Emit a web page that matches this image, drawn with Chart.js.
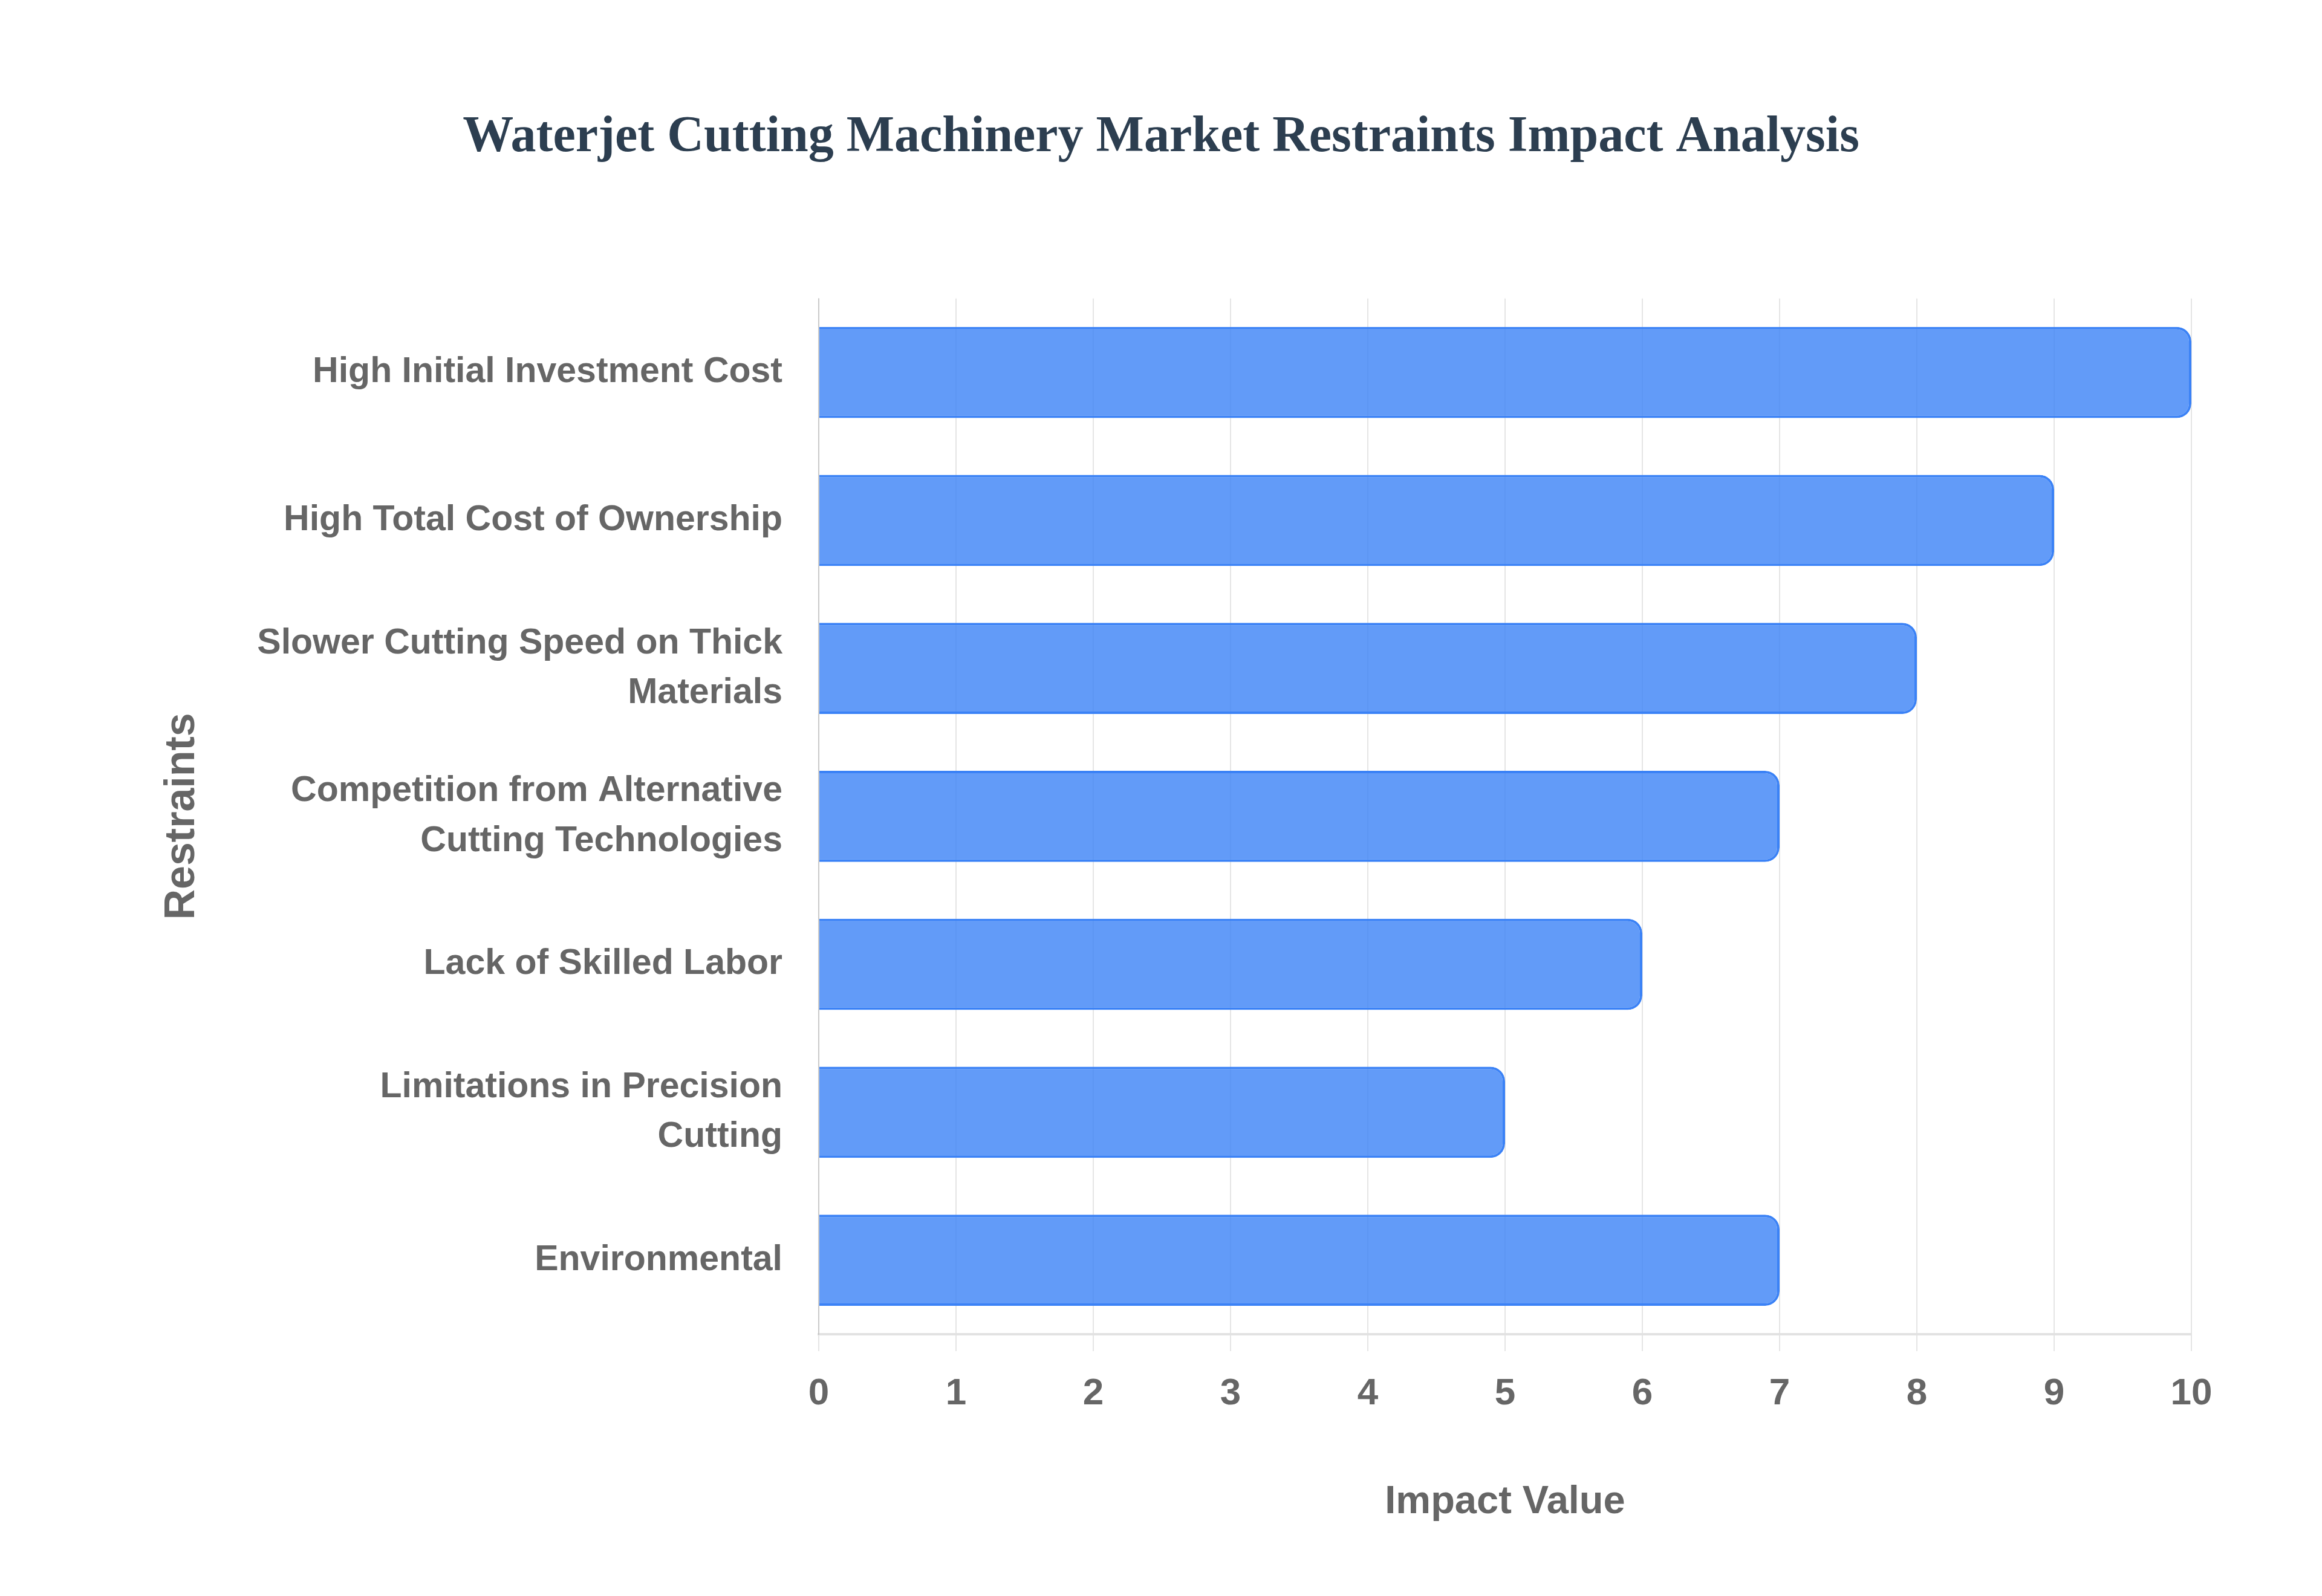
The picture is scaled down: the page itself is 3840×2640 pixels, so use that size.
<!DOCTYPE html>
<html>
<head>
<meta charset="utf-8">
<title>Waterjet Cutting Machinery Market Restraints Impact Analysis</title>
<script src="https://cdn.jsdelivr.net/npm/chart.js@4/dist/chart.umd.min.js"></script>
<style>
  html, body { margin: 0; padding: 0; background: #ffffff; }
  canvas { display: block; }
</style>
</head>
<body>
<canvas id="restraintsChart" width="3840" height="2640"></canvas>
<script>
// chart data
const restraints = [
  "High Initial Investment Cost",
  "High Total Cost of Ownership",
  ["Slower Cutting Speed on Thick", "Materials"],
  ["Competition from Alternative", "Cutting Technologies"],
  "Lack of Skilled Labor",
  ["Limitations in Precision", "Cutting"],
  "Environmental"
];
const impactValues = [10, 9, 8, 7, 6, 5, 7];
const impactTicks = [0, 1, 2, 3, 4, 5, 6, 7, 8, 9, 10];

const ctx = document.getElementById("restraintsChart").getContext("2d");
const chart = new Chart(ctx, {
  type: "bar",
  data: {
    labels: restraints,
    datasets: [
      {
        label: "Impact Value",
        data: impactValues,
        backgroundColor: "rgba(59, 130, 246, 0.8)",
        borderColor: "rgb(59, 130, 246)",
        borderWidth: 4,
        borderRadius: 24,
        barPercentage: 0.77,
        categoryPercentage: 0.8,
      },
    ],
  },
  options: {
    indexAxis: "y",
    responsive: false,
    devicePixelRatio: 1,
    animation: false,
    layout: {
      padding: { left: 216, right: 216, top: 0, bottom: 0 },
    },
    plugins: {
      legend: { display: false },
      tooltip: { enabled: false },
      title: {
        display: true,
        text: "Waterjet Cutting Machinery Market Restraints Impact Analysis",
        color: "#2c3e50",
        font: { family: "'Liberation Serif', 'Times New Roman', serif", size: 84, weight: "bold" },
        padding: { top: 178, bottom: 215 },
      },
    },
    scales: {
      x: {
        min: impactTicks[0],
        max: impactTicks[impactTicks.length - 1],
        afterBuildTicks: (scale) => {
          scale.ticks = impactTicks.map((v) => ({ value: v }));
        },
        afterFit: (scale) => {
          scale.height = 433;
        },
        grid: {
          color: "rgba(0, 0, 0, 0.1)",
          lineWidth: 2,
          drawTicks: true,
          tickLength: 28,
        },
        border: { color: "#e2e2e2", width: 4 },
        ticks: {
          color: "#666666",
          padding: 34,
          font: { family: "'Liberation Sans', Arial, sans-serif", size: 62, weight: "bold" },
        },
        title: {
          display: true,
          text: "Impact Value",
          color: "#666666",
          font: { family: "'Liberation Sans', Arial, sans-serif", size: 65, weight: "bold" },
          padding: { top: 0, bottom: 116 },
        },
      },
      y: {
        afterFit: (scale) => {
          scale.width = 1354 - 216;
        },
        grid: { display: false, drawTicks: false },
        border: { color: "rgba(0, 0, 0, 0.12)", width: 2 },
        ticks: {
          color: "#666666",
          padding: 60,
          font: { family: "'Liberation Sans', Arial, sans-serif", size: 59, weight: "bold", lineHeight: 1.4 },
        },
        title: {
          display: true,
          text: "Restraints",
          color: "#666666",
          font: { family: "'Liberation Sans', Arial, sans-serif", size: 70, weight: "bold" },
          padding: { top: 44, bottom: 0 },
        },
      },
    },
  },
});
</script>
</body>
</html>
